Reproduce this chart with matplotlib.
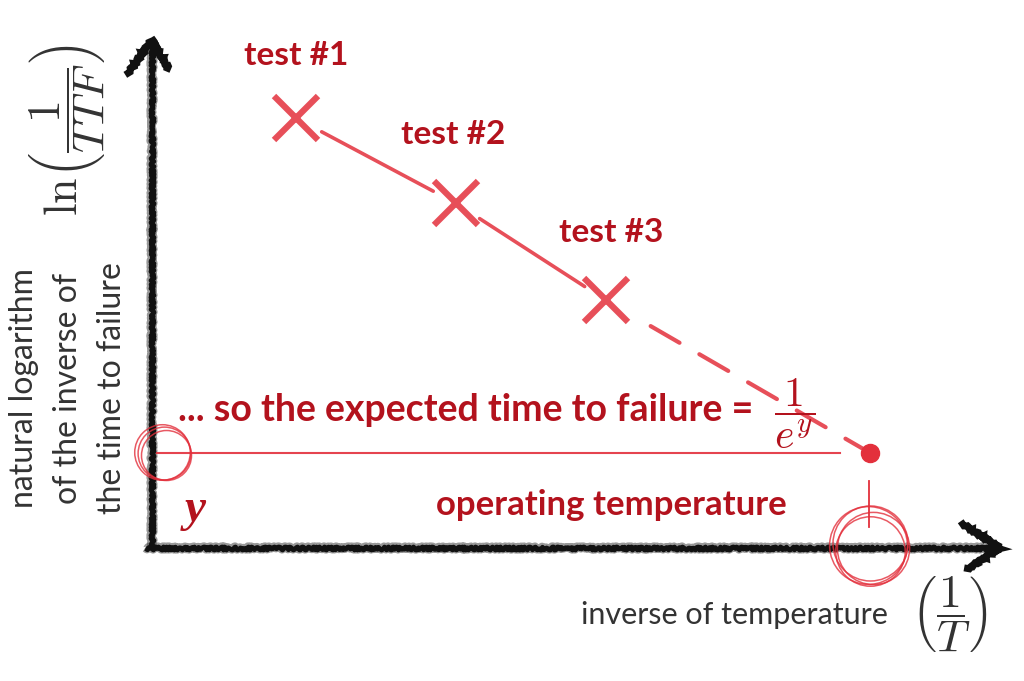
import matplotlib
matplotlib.use("Agg")
import matplotlib.pyplot as plt
import numpy as np

plt.rcParams['mathtext.fontset'] = 'cm'

# --- data (axis units 0..10) ---
inv_temp = [1.70, 3.58, 5.35]          # 1/T of the three tests
ln_inv_ttf = [8.46, 6.79, 4.88]        # ln(1/TTF) of the three tests
test_labels = ["test #1", "test #2", "test #3"]
op_inv_temp = 8.47                     # operating temperature (1/T)
op_ln_inv_ttf = 1.87                   # extrapolated y
axis_max = 10.0

RED = "#e3303c"
DARK_RED = "#b3121d"
GREY = "#333333"

fig = plt.figure(figsize=(10.24, 6.81), dpi=100)
ax = fig.add_axes([0, 0, 1, 1])
ax.set_xlim(-152 / 84.8, (1024 - 152) / 84.8)
ax.set_ylim(-(681 - 548) / 50.8, 548 / 50.8)
ax.axis("off")

# --- sketchy axes with open arrow heads ---
for lw, a, c in [(6, 0.55, "#444444"), (3.5, 1.0, "#111111")]:
    l1, = ax.plot([-0.08, axis_max], [0, 0], color=c, lw=lw, alpha=a,
                  solid_capstyle="butt")
    l2, = ax.plot([0, 0], [0, axis_max], color=c, lw=lw, alpha=a,
                  solid_capstyle="butt")
    l1.set_sketch_params(1.5, 5, 3)
    l2.set_sketch_params(1.5, 5, 3)
# arrow heads
hx, = ax.plot([axis_max - 0.44, axis_max, axis_max - 0.38], [0.47, 0, -0.41],
              color="#111111", lw=5, solid_joinstyle="miter")
hy, = ax.plot([-0.28, 0, 0.19], [axis_max - 0.65, axis_max, axis_max - 0.55],
              color="#111111", lw=5, solid_joinstyle="miter")
hx.set_sketch_params(1.2, 6, 3)
hy.set_sketch_params(1.2, 6, 3)

# --- line through the tests (solid), extrapolation (dashed) ---
pts_x = inv_temp + [op_inv_temp]
pts_y = ln_inv_ttf + [op_ln_inv_ttf]
for i in range(len(inv_temp) - 1):
    x0, y0, x1, y1 = pts_x[i], pts_y[i], pts_x[i + 1], pts_y[i + 1]
    t = np.array([0.16, 0.86])
    ax.plot(x0 + t * (x1 - x0), y0 + t * (y1 - y0), color=RED, lw=2.6,
            alpha=0.85, solid_capstyle="round")
x0, y0 = inv_temp[-1], ln_inv_ttf[-1]
t = np.array([0.17, 1.0])
ax.plot(x0 + t * (op_inv_temp - x0), y0 + t * (op_ln_inv_ttf - y0), color=RED,
        lw=3, alpha=0.85, dashes=(8, 5.5), dash_capstyle="round")

# crosses
ax.plot(inv_temp, ln_inv_ttf, ls="none", marker="x", markersize=32,
        markeredgewidth=4.5, color=RED, alpha=0.85)
# operating point
ax.plot([op_inv_temp], [op_ln_inv_ttf], marker="o", markersize=13, color=RED)

# horizontal projection to the y axis and small tick to the x axis
ax.plot([0.06, op_inv_temp - 0.36], [op_ln_inv_ttf, op_ln_inv_ttf], color=RED,
        lw=1.5, alpha=0.9)
ax.plot([op_inv_temp - 0.02, op_inv_temp - 0.02],
        [op_ln_inv_ttf - 0.56, op_ln_inv_ttf - 1.45], color=RED, lw=1.3)

# hand-drawn circles
for dx, dy, s in [(0.0, 0.0, 38), (0.03, -0.03, 36), (-0.02, 0.02, 40)]:
    ax.plot([0.14 + dx], [op_ln_inv_ttf + dy], marker="o", markersize=s,
            markerfacecolor="none", markeredgecolor=RED, markeredgewidth=1.1,
            alpha=0.8)
for dx, dy, s in [(0.0, 0.05, 54), (0.03, -0.05, 52), (-0.03, 0.0, 56),
                  (0.0, -0.1, 50)]:
    ax.plot([op_inv_temp + dx], [0.05 + dy], marker="o", markersize=s,
            markerfacecolor="none", markeredgecolor=RED, markeredgewidth=1.1,
            alpha=0.8)

# --- red annotations ---
label_pos = [(1.70, 9.70), (3.55, 8.13), (5.42, 6.22)]
for (tx, ty), lab in zip(label_pos, test_labels):
    ax.text(tx, ty, lab, color=DARK_RED, fontsize=24, fontweight="bold",
            family="Lato", ha="center", va="center")

ax.text(0.31, 2.72, "... so the expected time to failure =", color=DARK_RED,
        fontsize=27, fontweight="bold", family="Lato", ha="left", va="center")
ax.text(7.58, 2.64, r"$\dfrac{\mathbf{1}}{e^{y}}$",
        color=DARK_RED, fontsize=30, ha="center", va="center")
ax.text(0.51, 0.75, "y", color=DARK_RED, fontsize=34, fontweight="bold",
        fontstyle="italic", family="Liberation Serif", ha="center",
        va="center")
ax.text(5.42, 0.85, "operating temperature", color=DARK_RED, fontsize=25,
        fontweight="bold", family="Lato", ha="center", va="center")

# --- axis labels ---
ax.text(8.68, -1.32, "inverse of temperature", color=GREY, fontsize=22,
        family="Lato", ha="right", va="center")
ax.text(9.40, -1.32, r"$\left(\dfrac{1}{T}\right)$", color=GREY, fontsize=33,
        ha="center", va="center")
ax.text(-0.99, 3.15, "natural logarithm\nof the inverse of\nthe time to failure",
        color=GREY, fontsize=23, family="Lato",
        rotation=90, ha="center", va="center", linespacing=1.6,
        multialignment="center")
ax.text(-0.99, 8.23, r"$\ln\!\left(\dfrac{1}{TTF}\right)$", color=GREY,
        fontsize=33, rotation=90, ha="center", va="center")

fig.savefig("out.png", dpi=100)
